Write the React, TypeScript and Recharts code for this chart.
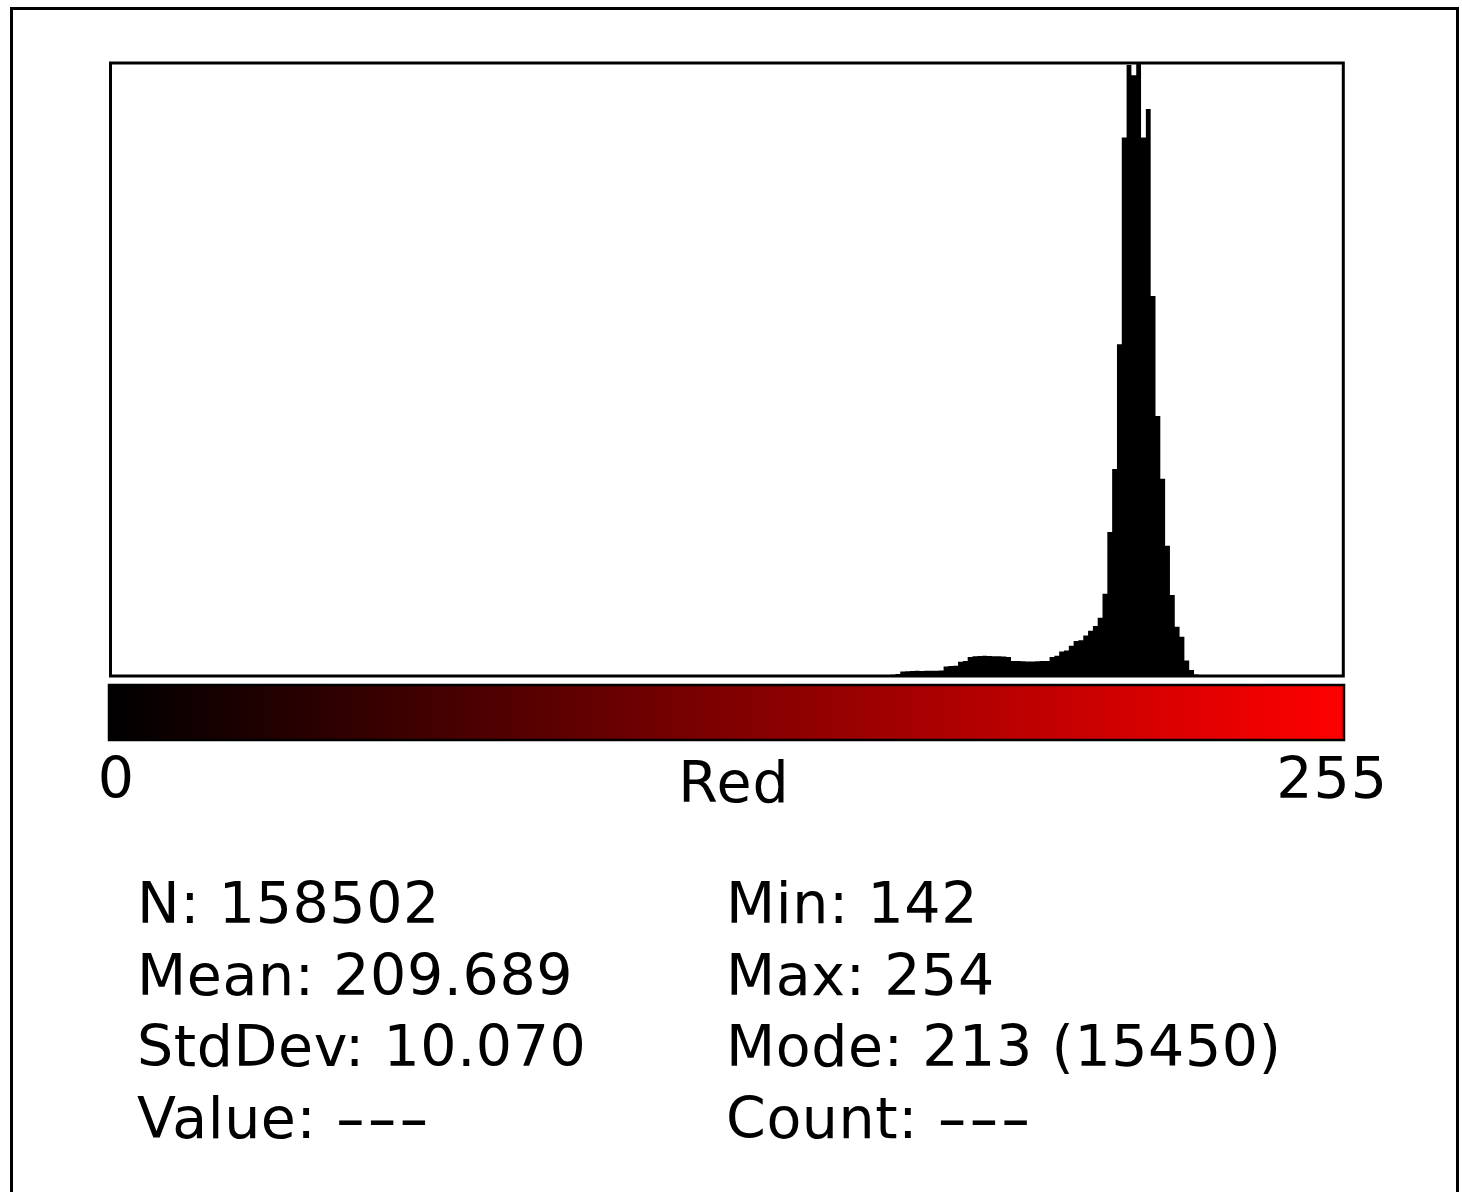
import { AreaChart, Area, XAxis, YAxis, ReferenceArea } from "recharts";

// red channel histogram, counts per bin starting at bin 142 (Min) up to 254 (Max)
const firstBin = 142;
const redCounts = [
  1, 0, 1, 0, 2, 1, 3, 2, 4, 3, 5, 4, 6, 8, 7, 9, 12, 14, 18, 22,
  // 162..
  30, 50,
  // 164..172
  115, 120, 125, 130, 125, 130, 135, 130, 140,
  // 173..177
  240, 250, 260, 360, 380,
  // 178..186
  480, 495, 505, 510, 505, 500, 495, 490, 480,
  // 187..194
  380, 375, 370, 365, 365, 370, 375, 380,
  // 195..204
  480, 510, 620, 640, 760, 880, 900, 1020, 1140, 1260,
  // 205..214
  1470, 2070, 3630, 5220, 8360, 13570, 15400, 15140, 15450, 13570,
  // 215..224
  14290, 9580, 6550, 4970, 3280, 2040, 1240, 990, 390, 150,
  // 225..254
  40, 15, 8, 5, 3, 2, 1, 1, 0, 0, 1, 0, 0, 0, 0, 0, 0, 0, 0, 0,
  0, 0, 0, 0, 0, 0, 0, 0, 0, 1,
];
const binCount = 256;
const modeCount = 15450;

const axisLabels = { min: "0", title: "Red", max: "255" };
const statsLeft = [
  ["N:", "158502"],
  ["Mean:", "209.689"],
  ["StdDev:", "10.070"],
  ["Value:", "---"],
];
const statsRight = [
  ["Min:", "142"],
  ["Max:", "254"],
  ["Mode:", "213 (15450)"],
  ["Count:", "---"],
];

const chartData = Array.from({ length: binCount + 1 }, (_, i) => ({
  bin: i,
  count: i >= firstBin && i - firstBin < redCounts.length ? redCounts[i - firstBin] : 0,
}));

const font = '"DejaVu Sans", Verdana, sans-serif';

function StatLine({ x, y, label, value }: { x: number; y: number; label: string; value: string }) {
  if (value === "---") {
    return (
      <text x={x} y={y} letterSpacing={0.6}>
        {label + " "}
        <tspan textLength={95} lengthAdjust="spacingAndGlyphs">{value}</tspan>
      </text>
    );
  }
  return (
    <text x={x} y={y} letterSpacing={0.6}>
      {label + " " + value}
    </text>
  );
}

export default function App() {
  return (
    <div
      style={{
        position: "absolute",
        left: 0,
        top: 0,
        width: 1462,
        height: 1192,
        background: "#fff",
        overflow: "hidden",
      }}
    >
      <div
        style={{
          position: "absolute",
          left: 10,
          top: 7,
          width: 1449,
          height: 1220,
          border: "3px solid #000",
          boxSizing: "border-box",
        }}
      />
      <div style={{ position: "absolute", left: 0, top: 0 }}>
        <AreaChart
          width={1462}
          height={700}
          data={chartData}
          margin={{ top: 63, left: 110.5, right: 118.7, bottom: 24 }}
        >
          <XAxis dataKey="bin" type="number" domain={[0, binCount]} hide />
          <YAxis type="number" domain={[0, modeCount]} allowDataOverflow hide />
          <Area
            type="stepAfter"
            dataKey="count"
            fill="#000"
            fillOpacity={1}
            stroke="none"
            isAnimationActive={false}
            dot={false}
            activeDot={false}
          />
          <ReferenceArea
            x1={0}
            x2={binCount}
            y1={0}
            y2={modeCount}
            fill="none"
            stroke="#000"
            strokeWidth={3}
            ifOverflow="visible"
          />
        </AreaChart>
      </div>
      <svg
        width={1462}
        height={1192}
        style={{ position: "absolute", left: 0, top: 0, pointerEvents: "none" }}
      >
        <defs>
          <linearGradient id="redLut" x1="0" y1="0" x2="1" y2="0">
            <stop offset="0%" stopColor="#000000" />
            <stop offset="100%" stopColor="#ff0000" />
          </linearGradient>
        </defs>
        <rect x={109} y={685} width={1235} height={55} fill="url(#redLut)" stroke="#000" strokeWidth={2.5} />
        <g fontFamily={font} fontSize={57} fill="#000">
          <text x={116} y={798} textAnchor="middle">{axisLabels.min}</text>
          <text x={734} y={802} textAnchor="middle" letterSpacing={1}>{axisLabels.title}</text>
          <text x={1388} y={798} textAnchor="end" letterSpacing={1}>{axisLabels.max}</text>
          {statsLeft.map(([label, value], i) => (
            <StatLine key={label} x={137} y={923 + i * 71.7} label={label} value={value} />
          ))}
          {statsRight.map(([label, value], i) => (
            <StatLine key={label} x={726} y={923 + i * 71.7} label={label} value={value} />
          ))}
        </g>
      </svg>
    </div>
  );
}
